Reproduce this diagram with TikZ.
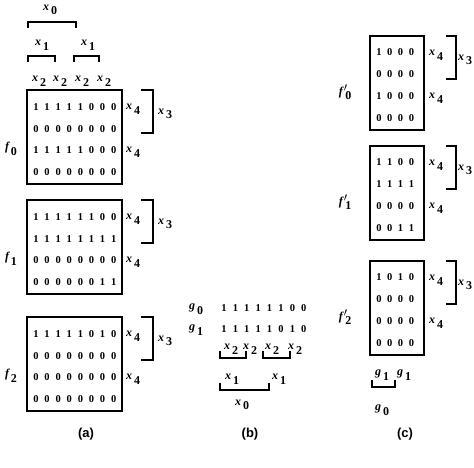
\documentclass[tikz,border=0pt]{standalone}
\usepackage{fontspec}
\setmainfont{Liberation Serif}
\setsansfont{Liberation Sans}
\tikzset{
 mapbox/.style={draw,line width=1.6pt,inner sep=0,outer sep=0},
 bit/.style={inner sep=0,font=\bfseries\fontsize{10.5}{10.5}\selectfont},
 lab/.style={inner sep=0,font=\bfseries\itshape\fontsize{12}{12}\selectfont},
 brk/.style={line width=1.4pt},
 capt/.style={inner sep=0,font=\sffamily\bfseries\fontsize{13}{13}\selectfont}
}
\newcommand\vsub[2]{#1\kern2pt\raisebox{-4.5pt}{\upshape #2}}
\newcommand\vpr[2]{#1\rlap{\raisebox{4pt}{\kern1pt$\prime$}}\kern2.5pt\raisebox{-4.5pt}{\upshape #2}}

\begin{document}
\begin{tikzpicture}[x=1pt,y=-1pt]
 \useasboundingbox (0,0) rectangle (474,467);

 % (a) column labels
 \node[lab] (xa0) at (50,10) {\vsub{x}{0}};
 \draw[brk] (28,28) -- (28,22) -- (76,22) -- (76,28);
 \node[lab] (xa1l) at (42,45) {\vsub{x}{1}};
 \node[lab] (xa1r) at (88,45) {\vsub{x}{1}};
 \draw[brk] (28,62) -- (28,56) -- (55,56) -- (55,62);
 \draw[brk] (74,62) -- (74,56) -- (99,56) -- (99,62);
 \foreach \x [count=\k] in {39,60,82,104}
     \node[lab] (xa2-\k) at (\x,81) {\vsub{x}{2}};

 % (a) maps
 \foreach \m/\top/\rows in {
   0/90/{{1,1,1,1,1,0,0,0},{0,0,0,0,0,0,0,0},{1,1,1,1,1,0,0,0},{0,0,0,0,0,0,0,0}},
   1/200/{{1,1,1,1,1,1,0,0},{1,1,1,1,1,1,1,1},{0,0,0,0,0,0,0,0},{0,0,0,0,0,0,1,1}},
   2/317/{{1,1,1,1,1,0,1,0},{0,0,0,0,0,0,0,0},{0,0,0,0,0,0,0,0},{0,0,0,0,0,0,0,0}}}{
   \node[mapbox,minimum width=95pt,minimum height=94pt,anchor=north west] (fa\m) at (27,\top) {};
   \foreach \r [count=\i] in \rows {
     \foreach \d [count=\j] in \r
       \node[bit] (fa\m-\i-\j) at ([shift={({9+11.1*(\j-1)},{17+21.7*(\i-1)})}]fa\m.north west) {\d};
   }
   \node[lab] (fa\m-x4t) at ([shift={(11,19)}]fa\m.north east) {\vsub{x}{4}};
   \node[lab] (fa\m-x4b) at ([shift={(11,62)}]fa\m.north east) {\vsub{x}{4}};
   \draw[brk] ([shift={(19,0)}]fa\m.north east) -- ++(12,0) -- ++(0,43) -- ++(-12,0);
   \node[lab] (fa\m-x3) at ([shift={(43,24)}]fa\m.north east) {\vsub{x}{3}};
   \node[lab] (fa\m-f) at ([shift={(-16,59)}]fa\m.north west) {\vsub{f}{\m}};
 }
 \node[capt] (ca) at (86,434) {(a)};

 % (b)
 \node[lab] (g0b) at (196,309) {\vsub{g}{0}};
 \node[lab] (g1b) at (196,330) {\vsub{g}{1}};
 \foreach \d [count=\j] in {1,1,1,1,1,1,0,0}
     \node[bit] (gb0-\j) at ({224+11.4*(\j-1)},308) {\d};
 \foreach \d [count=\j] in {1,1,1,1,1,0,1,0}
     \node[bit] (gb1-\j) at ({224+11.4*(\j-1)},329) {\d};
 \foreach \x [count=\k] in {231,250,272,295}
     \node[lab] (xb2-\k) at (\x,349) {\vsub{x}{2}};
 \draw[brk] (220,351) -- (220,358) -- (246,358) -- (246,351);
 \draw[brk] (263,351) -- (263,358) -- (290,358) -- (290,351);
 \node[lab] (xb1l) at (232,379) {\vsub{x}{1}};
 \node[lab] (xb1r) at (279,379) {\vsub{x}{1}};
 \draw[brk] (220,383) -- (220,390) -- (269,390) -- (269,383);
 \node[lab] (xb0) at (242,405) {\vsub{x}{0}};
 \node[capt] (cb) at (250,434) {(b)};

 % (c) maps
 \foreach \m/\top/\rows in {
   0/36/{{1,0,0,0},{0,0,0,0},{1,0,0,0},{0,0,0,0}},
   1/146/{{1,1,0,0},{1,1,1,1},{0,0,0,0},{0,0,1,1}},
   2/261/{{1,0,1,0},{0,0,0,0},{0,0,0,0},{0,0,0,0}}}{
   \node[mapbox,minimum width=54pt,minimum height=94pt,anchor=north west] (fc\m) at (370,\top) {};
   \foreach \r [count=\i] in \rows {
     \foreach \d [count=\j] in \r
       \node[bit] (fc\m-\i-\j) at ([shift={({9+10.8*(\j-1)},{16.5+21.8*(\i-1)})}]fc\m.north west) {\d};
   }
   \node[lab] (fc\m-x4t) at ([shift={(12,19)}]fc\m.north east) {\vsub{x}{4}};
   \node[lab] (fc\m-x4b) at ([shift={(12,62)}]fc\m.north east) {\vsub{x}{4}};
   \draw[brk] ([shift={(22,0)}]fc\m.north east) -- ++(10,0) -- ++(0,43) -- ++(-10,0);
   \node[lab] (fc\m-x3) at ([shift={(41,24)}]fc\m.north east) {\vsub{x}{3}};
   \node[lab] (fc\m-f) at ([shift={(-25,56)}]fc\m.north west) {\vpr{f}{\m}};
 }
 \node[lab] (g1cl) at (382,375) {\vsub{g}{1}};
 \node[lab] (g1cr) at (404,375) {\vsub{g}{1}};
 \draw[brk] (372,380) -- (372,387) -- (395,387) -- (395,380);
 \node[lab] (g0c) at (382,410) {\vsub{g}{0}};
 \node[capt] (cc) at (405,434) {(c)};
\end{tikzpicture}
\end{document}
